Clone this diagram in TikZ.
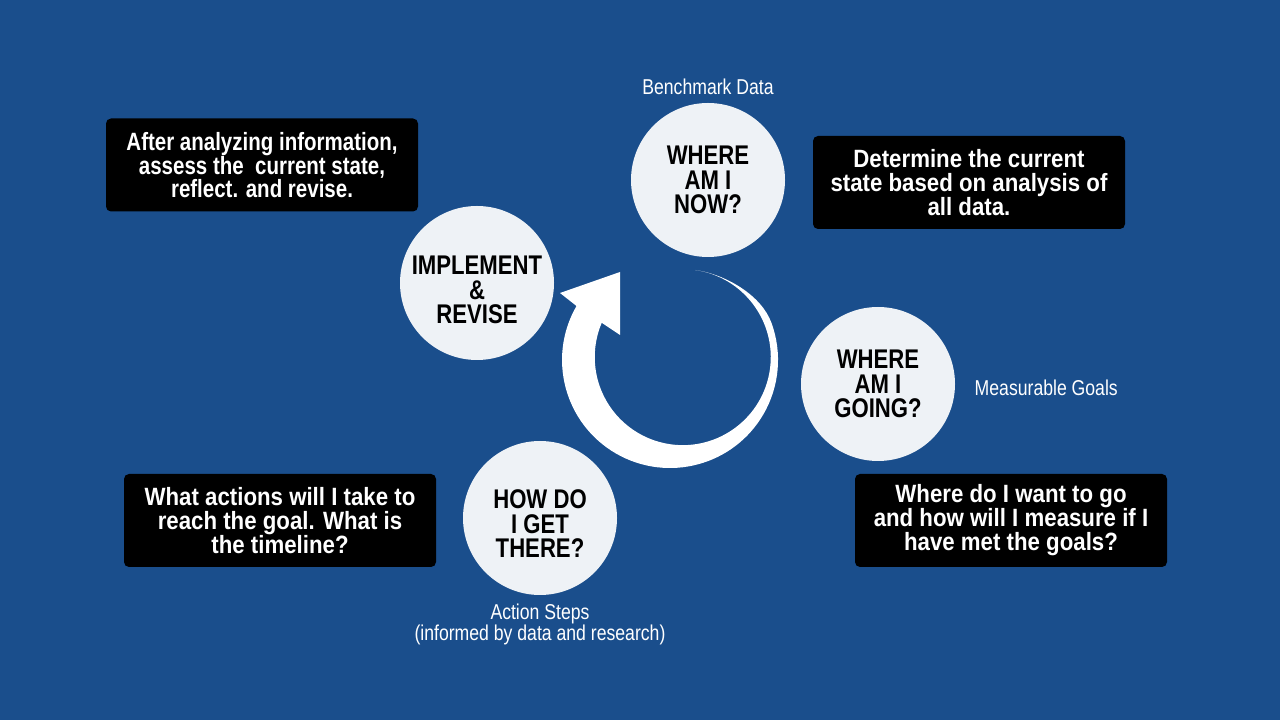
\documentclass[tikz,border=0pt]{standalone}
\usepackage{fontspec}
\setmainfont{Liberation Sans}
\newfontfamily\narrowfont[FakeStretch=0.82]{Liberation Sans}
\newfontfamily\boxfont[FakeStretch=0.89]{Liberation Sans}
\usetikzlibrary{positioning}

\definecolor{bgblue}{HTML}{1A4E8C}
\definecolor{disc}{HTML}{EEF2F6}

\begin{document}
\begin{tikzpicture}[x=1pt, y=1pt,
  stage/.style={circle, fill=disc, minimum size=154pt, inner sep=0pt},
  stagetext/.style={align=center, inner sep=0pt, font=\narrowfont\bfseries\fontsize{27}{24.5}\selectfont},
  note/.style={rectangle, rounded corners=5pt, fill=black, text=white, minimum width=312pt,
    minimum height=93pt, align=center, font=\boxfont\bfseries\fontsize{25}{24}\selectfont},
  tag/.style={text=white, align=center, font=\narrowfont\fontsize{21.5}{20}\selectfont}]
  % background
  \useasboundingbox (0,0) rectangle (1280,720);
  \fill[bgblue] (0,0) rectangle (1280,720);
  % cycle arrow
  \fill[white] (576.5,414) arc[start angle=150, end angle=380, radius=108]
    .. controls (761.5,425) and (725,446) .. (695,450)
    arc[start angle=82, end angle=-203, radius=88]
    -- (620,385) -- (620,448) -- (560,427) -- cycle;
  % stages as circles
  \node[stage] (now) at (708,540) {};
  \node[stage] (going) at (878,336) {};
  \node[stage] (there) at (540,202) {};
  \node[stage] (revise) at (477,437) {};
  \node[stagetext] (nowtext) at (now.center) {WHERE\\AM I\\NOW?};
  \node[stagetext] (goingtext) at (going.center) {WHERE\\AM I\\GOING?};
  \node[stagetext] (theretext) at ([yshift=-6pt]there.center) {HOW DO\\I GET\\THERE?};
  \node[stagetext] (revisetext) at ([yshift=-7pt]revise.center) {IMPLEMENT\\\&\\REVISE};
  % notes
  \node[note, font=\narrowfont\bfseries\fontsize{25}{22.5}\selectfont] (assess) at (262,555)
    {After analyzing information,\\assess the\ \ current state,\\reflect. and revise.};
  \node[note] (state) at (969,537.5) {Determine the current\\state based on analysis of\\all data.};
  \node[note] (actions) at (280,199.5) {What actions will I take to\\reach the goal. What is\\the timeline?};
  \node[note] (measure) at (1011,199.5) {Where do I want to go\\and how will I measure if I\\have met the goals?};
  % tags
  \node[tag, above=5pt of now] (bench) {Benchmark Data};
  \node[tag, right=16pt of going, yshift=-4pt] (goals) {Measurable Goals};
  \node[tag, below=5pt of there] (steps) {Action Steps\\(informed by data and research)};
\end{tikzpicture}
\end{document}
